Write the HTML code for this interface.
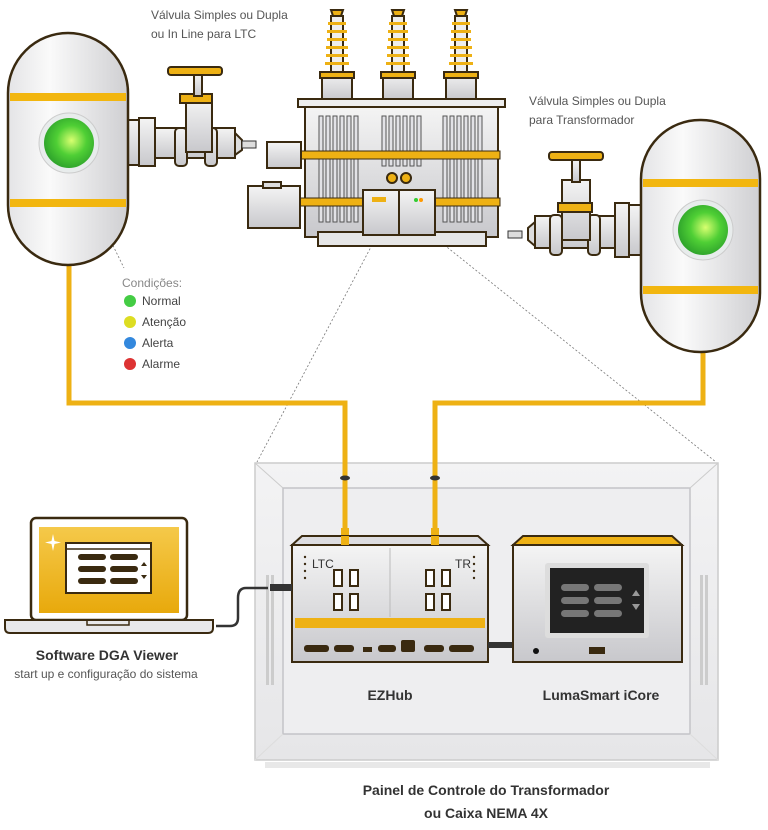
<!DOCTYPE html>
<html><head><meta charset="utf-8"><style>
html,body{margin:0;padding:0;background:#fff;}
svg{display:block;}
text{font-family:"Liberation Sans Narrow","Liberation Sans",sans-serif;}
</style></head><body>
<svg width="768" height="830" viewBox="0 0 768 830" xmlns="http://www.w3.org/2000/svg">
<defs>
<linearGradient id="tank" x1="0" x2="1" y1="0" y2="0"><stop offset="0" stop-color="#e4e4e6"/><stop offset="0.35" stop-color="#fafafa"/><stop offset="1" stop-color="#cfcfd2"/></linearGradient>
<radialGradient id="grn" cx="0.55" cy="0.45" r="0.6"><stop offset="0" stop-color="#d8ff70"/><stop offset="0.5" stop-color="#4fcf35"/><stop offset="1" stop-color="#2a9e2a"/></radialGradient>
<linearGradient id="metal" x1="0" x2="0" y1="0" y2="1"><stop offset="0" stop-color="#f4f4f4"/><stop offset="1" stop-color="#c8c8cc"/></linearGradient>
<linearGradient id="scr" x1="0" x2="0" y1="0" y2="1"><stop offset="0" stop-color="#f5c94a"/><stop offset="1" stop-color="#e8a90c"/></linearGradient>
<linearGradient id="pan" x1="0" x2="0" y1="0" y2="1"><stop offset="0" stop-color="#f3f3f4"/><stop offset="1" stop-color="#e6e6e8"/></linearGradient>
</defs>

<text x="151" y="19" font-size="12" fill="#555">Válvula Simples ou Dupla</text>
<text x="151" y="38" font-size="12" fill="#555">ou In Line para LTC</text>
<text x="529" y="105" font-size="12" fill="#555">Válvula Simples ou Dupla</text>
<text x="529" y="124" font-size="12" fill="#555">para Transformador</text>

<!-- dotted lines -->
<line x1="372" y1="245" x2="257" y2="462" stroke="#777" stroke-width="0.8" stroke-dasharray="2,2"/>
<line x1="438" y1="240" x2="716" y2="462" stroke="#777" stroke-width="0.8" stroke-dasharray="2,2"/>
<line x1="76" y1="170" x2="124" y2="268" stroke="#777" stroke-width="0.8" stroke-dasharray="2,2"/>

<!-- panel -->
<rect x="255" y="463" width="463" height="297" fill="url(#pan)" stroke="#ccc" stroke-width="1.5"/>
<rect x="283" y="488" width="407" height="246" fill="#eeeef0" stroke="#c4c4c8" stroke-width="1.5"/>
<line x1="255" y1="463" x2="283" y2="488" stroke="#ccc"/><line x1="718" y1="463" x2="690" y2="488" stroke="#ccc"/>
<line x1="255" y1="760" x2="283" y2="734" stroke="#ddd"/><line x1="718" y1="760" x2="690" y2="734" stroke="#ddd"/>
<rect x="265" y="762" width="445" height="6" fill="#e8e8e8"/>
<g fill="#ccc"><rect x="266" y="575" width="3" height="110"/><rect x="271" y="575" width="3" height="110"/><rect x="700" y="575" width="3" height="110"/><rect x="705" y="575" width="3" height="110"/></g>

<!-- yellow pipes -->
<g fill="none" stroke="#eeb114" stroke-width="5">
<path d="M69 265 V403 H345 V536"/>
<path d="M703 352 V403 H435 V536"/>
</g>
<ellipse cx="345" cy="478" rx="5" ry="2.5" fill="#333"/><ellipse cx="435" cy="478" rx="5" ry="2.5" fill="#333"/>
<rect x="341" y="528" width="8" height="10" fill="#eeb114"/><rect x="431" y="528" width="8" height="10" fill="#eeb114"/>

<!-- left valve -->
<g stroke="#3a2a10" stroke-width="2">
<rect x="128" y="120" width="26" height="45" fill="url(#metal)"/>
<rect x="139" y="118" width="16" height="48" fill="url(#metal)"/>
<rect x="155" y="128" width="80" height="30" fill="url(#metal)"/>
<rect x="175" y="128" width="12" height="38" rx="4" fill="url(#metal)"/>
<rect x="205" y="128" width="12" height="38" rx="4" fill="url(#metal)"/>
<rect x="186" y="98" width="26" height="54" fill="url(#metal)"/>
<rect x="180" y="94" width="32" height="9" fill="#eeb114"/>
<rect x="194" y="74" width="8" height="22" fill="url(#metal)"/>
<rect x="168" y="67" width="54" height="8" rx="3" fill="#eeb114"/>
<path d="M235 133 L242 140 L242 150 L235 155 Z" fill="#ddd"/>
</g>
<rect x="242" y="141" width="14" height="7" fill="#ddd" stroke="#333" stroke-width="1"/>

<rect x="8" y="33" width="120" height="232" rx="60" fill="url(#tank)" stroke="#3a2a10" stroke-width="2.5"/>
<rect x="10" y="93" width="116" height="8" fill="#f2b60f"/>
<rect x="10" y="199" width="116" height="8" fill="#f2b60f"/>
<circle cx="69" cy="143" r="30" fill="#e8ecec" stroke="#ccc"/>
<circle cx="69" cy="143" r="25" fill="url(#grn)"/>

<!-- right valve -->
<g stroke="#3a2a10" stroke-width="2">
<rect x="615" y="205" width="28" height="50" fill="url(#metal)"/>
<rect x="615" y="203" width="14" height="54" fill="url(#metal)"/>
<rect x="535" y="216" width="80" height="32" fill="url(#metal)"/>
<rect x="550" y="215" width="12" height="40" rx="4" fill="url(#metal)"/>
<rect x="588" y="215" width="12" height="40" rx="4" fill="url(#metal)"/>
<rect x="562" y="180" width="28" height="60" fill="url(#metal)"/>
<rect x="558" y="203" width="34" height="9" fill="#eeb114"/>
<rect x="572" y="160" width="8" height="22" fill="url(#metal)"/>
<rect x="549" y="152" width="54" height="8" rx="3" fill="#eeb114"/>
<path d="M535 222 L528 228 L528 240 L535 246 Z" fill="#ddd"/>
</g>
<rect x="508" y="231" width="14" height="7" fill="#ddd" stroke="#333" stroke-width="1"/>

<rect x="641" y="120" width="119" height="232" rx="59" fill="url(#tank)" stroke="#3a2a10" stroke-width="2.5"/>
<rect x="643" y="179" width="115" height="8" fill="#f2b60f"/>
<rect x="643" y="286" width="115" height="8" fill="#f2b60f"/>
<circle cx="703" cy="230" r="30" fill="#e8ecec" stroke="#ccc"/>
<circle cx="703" cy="230" r="25" fill="url(#grn)"/>

<!-- transformer -->
<g stroke="#3a2a10" stroke-width="2">
<g id="b1">
<rect x="322" y="72" width="30" height="28" fill="url(#metal)"/>
<rect x="320" y="72" width="34" height="6" fill="#eeb114"/>
<path d="M331 10 h12 l-2 6 h-8 z" fill="#eeb114"/>
<rect x="331" y="16" width="12" height="56" fill="#eee"/>
</g>
<g fill="#eeb114" stroke="none">
<rect x="328" y="22" width="18" height="3"/><rect x="327" y="30" width="20" height="3"/><rect x="327" y="38" width="20" height="3"/><rect x="326" y="46" width="22" height="3"/><rect x="326" y="54" width="22" height="3"/><rect x="325" y="62" width="24" height="3"/>
</g>
<use href="#b1" x="61"/><use href="#b1" x="124"/>
<g fill="#eeb114" stroke="none">
<rect x="389" y="22" width="18" height="3"/><rect x="388" y="30" width="20" height="3"/><rect x="388" y="38" width="20" height="3"/><rect x="387" y="46" width="22" height="3"/><rect x="387" y="54" width="22" height="3"/><rect x="386" y="62" width="24" height="3"/>
<rect x="452" y="22" width="18" height="3"/><rect x="451" y="30" width="20" height="3"/><rect x="451" y="38" width="20" height="3"/><rect x="450" y="46" width="22" height="3"/><rect x="450" y="54" width="22" height="3"/><rect x="449" y="62" width="24" height="3"/>
</g>
<rect x="298" y="99" width="207" height="8" fill="#eee"/>
<rect x="305" y="107" width="193" height="130" fill="url(#metal)"/>
<rect x="318" y="232" width="168" height="14" fill="#e6e6e6"/>
</g>
<g fill="#e2e2e6" stroke="#555" stroke-width="1">
<rect x="319" y="116" width="4" height="106"/><rect x="326" y="116" width="4" height="106"/><rect x="333" y="116" width="4" height="106"/><rect x="340" y="116" width="4" height="106"/><rect x="347" y="116" width="4" height="106"/><rect x="354" y="116" width="4" height="106"/>
<rect x="382" y="116" width="4" height="50"/><rect x="389" y="116" width="4" height="50"/><rect x="396" y="116" width="4" height="50"/><rect x="403" y="116" width="4" height="50"/><rect x="410" y="116" width="4" height="50"/><rect x="417" y="116" width="4" height="50"/>
<rect x="443" y="116" width="4" height="106"/><rect x="450" y="116" width="4" height="106"/><rect x="457" y="116" width="4" height="106"/><rect x="464" y="116" width="4" height="106"/><rect x="471" y="116" width="4" height="106"/><rect x="478" y="116" width="4" height="106"/>
</g>
<rect x="300" y="151" width="200" height="8" fill="#eeb114" stroke="#3a2a10" stroke-width="1"/>
<rect x="300" y="198" width="200" height="8" fill="#eeb114" stroke="#3a2a10" stroke-width="1"/>
<g stroke="#3a2a10" stroke-width="2">
<rect x="267" y="142" width="34" height="26" fill="url(#metal)"/>
<rect x="248" y="186" width="52" height="42" fill="url(#metal)"/>
<rect x="263" y="182" width="18" height="6" fill="#ddd"/>
<rect x="363" y="190" width="72" height="45" fill="url(#metal)"/>
<line x1="399" y1="190" x2="399" y2="235"/>
<circle cx="392" cy="178" r="5" fill="#eeb114"/><circle cx="406" cy="178" r="5" fill="#eeb114"/>
</g>
<rect x="372" y="197" width="14" height="5" fill="#eeb114"/>
<circle cx="416" cy="200" r="2" fill="#3c3"/><circle cx="421" cy="200" r="2" fill="#f90"/>

<!-- legend -->
<text x="122" y="287" font-size="12" fill="#888">Condições:</text>
<circle cx="130" cy="301" r="6" fill="#4c4"/><text x="142" y="305" font-size="12" fill="#444">Normal</text>
<circle cx="130" cy="322" r="6" fill="#dd2"/><text x="142" y="326" font-size="12" fill="#444">Atenção</text>
<circle cx="130" cy="343" r="6" fill="#38d"/><text x="142" y="347" font-size="12" fill="#444">Alerta</text>
<circle cx="130" cy="364" r="6" fill="#d33"/><text x="142" y="368" font-size="12" fill="#444">Alarme</text>

<!-- EZHub -->
<path d="M292 545 L302 536 L478 536 L488 545 Z" fill="#dcdce0" stroke="#3a2a10" stroke-width="2"/>
<rect x="292" y="545" width="196" height="117" fill="url(#metal)" stroke="#3a2a10" stroke-width="2"/>
<rect x="341" y="536" width="8" height="9" fill="#eeb114"/><rect x="431" y="536" width="8" height="9" fill="#eeb114"/>
<line x1="390" y1="548" x2="390" y2="617" stroke="#bbb"/>
<rect x="295" y="618" width="190" height="10" fill="#eeb114"/>
<text x="312" y="568" font-size="12" fill="#333">LTC</text><text x="455" y="568" font-size="12" fill="#333">TR</text>
<g fill="#3a2a10"><circle cx="305" cy="557" r="1.2"/><circle cx="305" cy="564" r="1.2"/><circle cx="305" cy="571" r="1.2"/><circle cx="305" cy="578" r="1.2"/><circle cx="474" cy="557" r="1.2"/><circle cx="474" cy="564" r="1.2"/><circle cx="474" cy="571" r="1.2"/><circle cx="474" cy="578" r="1.2"/></g>
<g fill="#fff" stroke="#3a2a10" stroke-width="2">
<rect x="334" y="570" width="8" height="16"/><rect x="350" y="570" width="8" height="16"/><rect x="334" y="594" width="8" height="16"/><rect x="350" y="594" width="8" height="16"/>
<rect x="426" y="570" width="8" height="16"/><rect x="442" y="570" width="8" height="16"/><rect x="426" y="594" width="8" height="16"/><rect x="442" y="594" width="8" height="16"/>
</g>
<g fill="#3a2a10"><rect x="304" y="645" width="25" height="7" rx="3"/><rect x="334" y="645" width="20" height="7" rx="3"/><rect x="363" y="647" width="9" height="5"/><rect x="378" y="645" width="18" height="7" rx="3"/><rect x="401" y="640" width="14" height="12" rx="2"/><rect x="424" y="645" width="20" height="7" rx="3"/><rect x="449" y="645" width="25" height="7" rx="3"/></g>
<rect x="488" y="642" width="25" height="6" fill="#333"/>
<text x="390" y="700" font-size="14" font-weight="bold" fill="#333" text-anchor="middle">EZHub</text>

<!-- LumaSmart -->
<path d="M513 545 L523 536 L672 536 L682 545 Z" fill="#eeb114" stroke="#3a2a10" stroke-width="2"/>
<rect x="513" y="545" width="169" height="117" fill="url(#metal)" stroke="#3a2a10" stroke-width="2"/>
<rect x="545" y="563" width="104" height="75" rx="3" fill="#ddd"/>
<rect x="550" y="568" width="94" height="65" fill="#222"/>
<g fill="#777"><rect x="561" y="584" width="28" height="7" rx="3.5"/><rect x="594" y="584" width="28" height="7" rx="3.5"/><rect x="561" y="597" width="28" height="7" rx="3.5"/><rect x="594" y="597" width="28" height="7" rx="3.5"/><rect x="561" y="610" width="28" height="7" rx="3.5"/><rect x="594" y="610" width="28" height="7" rx="3.5"/></g>
<path d="M632 596 l4 -6 l4 6 z M632 604 l4 6 l4 -6 z" fill="#999"/>
<circle cx="536" cy="651" r="3" fill="#111"/>
<rect x="589" y="647" width="16" height="7" fill="#3a2a10"/>
<text x="601" y="700" font-size="14" font-weight="bold" fill="#333" text-anchor="middle">LumaSmart iCore</text>

<!-- laptop -->
<rect x="31" y="518" width="156" height="102" rx="5" fill="#fff" stroke="#3a2a10" stroke-width="2.5"/>
<rect x="39" y="527" width="140" height="86" fill="url(#scr)"/>
<path d="M53 534 L54.5 541 L61 542.5 L54.5 544 L53 551 L51.5 544 L45 542.5 L51.5 541 Z" fill="#fff"/>
<rect x="66" y="543" width="85" height="50" fill="#fff" stroke="#3a2a10" stroke-width="2"/>
<line x1="66" y1="549" x2="151" y2="549" stroke="#3a2a10" stroke-width="1.5"/>
<g fill="#3a2a10"><rect x="78" y="554" width="28" height="6" rx="3"/><rect x="110" y="554" width="28" height="6" rx="3"/><rect x="78" y="566" width="28" height="6" rx="3"/><rect x="110" y="566" width="28" height="6" rx="3"/><rect x="78" y="578" width="28" height="6" rx="3"/><rect x="110" y="578" width="28" height="6" rx="3"/></g>
<path d="M141 566 l3 -4 l3 4 z M141 575 l3 4 l3 -4 z" fill="#3a2a10"/>
<path d="M5 620 H213 V628 Q213 633 208 633 H10 Q5 633 5 628 Z" fill="#e8e8ea" stroke="#3a2a10" stroke-width="2"/>
<path d="M87 620 v5 h42 v-5" fill="none" stroke="#3a2a10" stroke-width="1.5"/>
<path d="M216 626 H230 Q238 626 238 618 V598 Q238 588 246 588 H268" fill="none" stroke="#333" stroke-width="2.5"/>
<rect x="270" y="584" width="22" height="7" fill="#333"/>
<text x="107" y="660" font-size="14" font-weight="bold" fill="#333" text-anchor="middle">Software DGA Viewer</text>
<text x="106" y="678" font-size="12" fill="#555" text-anchor="middle">start up e configuração do sistema</text>

<text x="486" y="795" font-size="14" font-weight="bold" fill="#333" text-anchor="middle">Painel de Controle do Transformador</text>
<text x="486" y="818" font-size="14" font-weight="bold" fill="#333" text-anchor="middle">ou Caixa NEMA 4X</text>
</svg>
</body></html>
